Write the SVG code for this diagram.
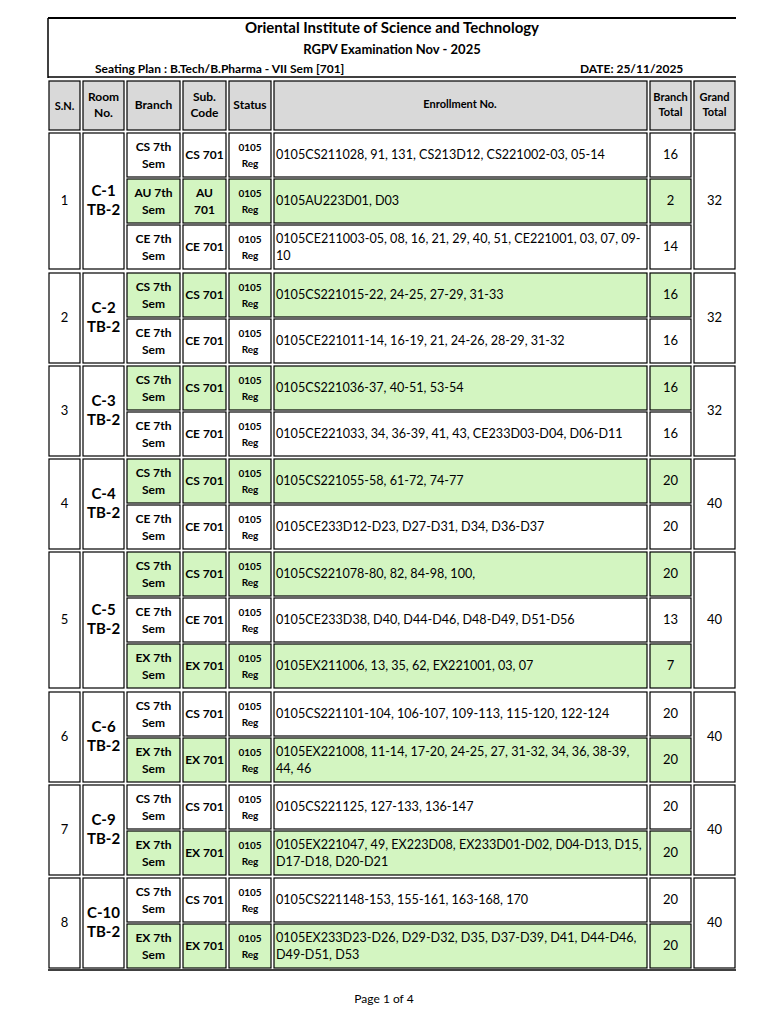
<svg xmlns="http://www.w3.org/2000/svg" width="768" height="1024" viewBox="0 0 768 1024">
<style>
text{font-family:Lato,"Open Sans","Liberation Sans",sans-serif;fill:#000}
.c{fill:#fff;stroke:#000;stroke-width:1.2}
.g{fill:#d3f5c1;stroke:#000;stroke-width:1.2}
.h{fill:#d9d9d9;stroke:#000;stroke-width:1.2}
.b{font-weight:bold}
.m{text-anchor:middle}
.t12{font-size:12px}.t10{font-size:10px}.t13{font-size:13px}.t15{font-size:15px}
text[x="276"]{font-size:12.6px}
</style>
<rect width="768" height="1024" fill="#fff"/>
<g id="title">
<line x1="48" y1="18" x2="736" y2="18" stroke="#000" stroke-width="2"/>
<line x1="48" y1="18" x2="48" y2="78" stroke="#000" stroke-width="1.5"/>
<line x1="48" y1="77" x2="736" y2="77" stroke="#000" stroke-width="1.5"/>
<text x="392" y="33" class="b m" font-size="15">Oriental Institute of Science and Technology</text>
<text x="392" y="54" class="b m t13">RGPV Examination Nov - 2025</text>
<text x="95" y="73" class="b t12">Seating Plan : B.Tech/B.Pharma - VII Sem [701]</text>
<text x="580" y="73" class="b t12">DATE: 25/11/2025</text>
</g>
<g id="header" class="b t12">
<rect class="h" x="49" y="81" width="31" height="49"/><text x="64.5" y="110" class="m" font-size="11">S.N.</text>
<rect class="h" x="83" y="81" width="41" height="49"/><text x="103.5" y="101" class="m">Room</text><text x="103.5" y="117" class="m">No.</text>
<rect class="h" x="127" y="81" width="53" height="49"/><text x="153.5" y="109" class="m">Branch</text>
<rect class="h" x="183" y="81" width="43" height="49"/><text x="204.5" y="101" class="m">Sub.</text><text x="204.5" y="117" class="m">Code</text>
<rect class="h" x="229" y="81" width="42" height="49"/><text x="250" y="109" class="m">Status</text>
<rect class="h" x="274" y="81" width="373" height="49"/><text x="460" y="108" class="m" font-size="11">Enrollment No.</text>
<rect class="h" x="650" y="81" width="41" height="49"/><text x="670.5" y="101" class="m" font-size="11">Branch</text><text x="670.5" y="116" class="m" font-size="11">Total</text>
<rect class="h" x="694" y="81" width="41" height="49"/><text x="714.5" y="101" class="m" font-size="11">Grand</text><text x="714.5" y="116" class="m" font-size="11">Total</text>
</g>

<g id="g1">
<rect class="c" x="49" y="133" width="31" height="136"/><text x="64.5" y="205" class="m t13">1</text>
<rect class="c" x="83" y="133" width="41" height="136"/><text x="103.5" y="196" class="m b t15">C-1</text><text x="103.5" y="215" class="m b t15">TB-2</text>
<rect class="c" x="694" y="133" width="41" height="136"/><text x="714.5" y="205" class="m t13">32</text>
<rect class="c" x="127" y="133" width="53" height="44"/><text x="153.5" y="151" class="m b t12">CS 7th</text><text x="153.5" y="168" class="m b t12">Sem</text>
<rect class="c" x="183" y="133" width="43" height="44"/><text x="204.5" y="159" class="m b t12">CS 701</text>
<rect class="c" x="229" y="133" width="42" height="44"/><text x="250" y="151" class="m b t10">0105</text><text x="250" y="167" class="m b t10">Reg</text>
<rect class="c" x="274" y="133" width="373" height="44"/><text x="276" y="159" class="t13">0105CS211028, 91, 131, CS213D12, CS221002-03, 05-14</text>
<rect class="c" x="650" y="133" width="41" height="44"/><text x="670.5" y="159" class="m t13">16</text>
<rect class="g" x="127" y="179" width="53" height="44"/><text x="153.5" y="197" class="m b t12">AU 7th</text><text x="153.5" y="214" class="m b t12">Sem</text>
<rect class="g" x="183" y="179" width="43" height="44"/><text x="204.5" y="197" class="m b t12">AU</text><text x="204.5" y="214" class="m b t12">701</text>
<rect class="g" x="229" y="179" width="42" height="44"/><text x="250" y="197" class="m b t10">0105</text><text x="250" y="213" class="m b t10">Reg</text>
<rect class="g" x="274" y="179" width="373" height="44"/><text x="276" y="205" class="t13">0105AU223D01, D03</text>
<rect class="g" x="650" y="179" width="41" height="44"/><text x="670.5" y="205" class="m t13">2</text>
<rect class="c" x="127" y="225" width="53" height="44"/><text x="153.5" y="243" class="m b t12">CE 7th</text><text x="153.5" y="260" class="m b t12">Sem</text>
<rect class="c" x="183" y="225" width="43" height="44"/><text x="204.5" y="251" class="m b t12">CE 701</text>
<rect class="c" x="229" y="225" width="42" height="44"/><text x="250" y="243" class="m b t10">0105</text><text x="250" y="259" class="m b t10">Reg</text>
<rect class="c" x="274" y="225" width="373" height="44"/><text x="276" y="243" class="t13">0105CE211003-05, 08, 16, 21, 29, 40, 51, CE221001, 03, 07, 09-</text><text x="276" y="260" class="t13">10</text>
<rect class="c" x="650" y="225" width="41" height="44"/><text x="670.5" y="251" class="m t13">14</text>
</g>

<g id="g2">
<rect class="c" x="49" y="273" width="31" height="90"/><text x="64.5" y="322" class="m t13">2</text>
<rect class="c" x="83" y="273" width="41" height="90"/><text x="103.5" y="313" class="m b t15">C-2</text><text x="103.5" y="332" class="m b t15">TB-2</text>
<rect class="c" x="694" y="273" width="41" height="90"/><text x="714.5" y="322" class="m t13">32</text>
<rect class="g" x="127" y="273" width="53" height="44"/><text x="153.5" y="291" class="m b t12">CS 7th</text><text x="153.5" y="308" class="m b t12">Sem</text>
<rect class="g" x="183" y="273" width="43" height="44"/><text x="204.5" y="299" class="m b t12">CS 701</text>
<rect class="g" x="229" y="273" width="42" height="44"/><text x="250" y="291" class="m b t10">0105</text><text x="250" y="307" class="m b t10">Reg</text>
<rect class="g" x="274" y="273" width="373" height="44"/><text x="276" y="299" class="t13">0105CS221015-22, 24-25, 27-29, 31-33</text>
<rect class="g" x="650" y="273" width="41" height="44"/><text x="670.5" y="299" class="m t13">16</text>
<rect class="c" x="127" y="319" width="53" height="44"/><text x="153.5" y="337" class="m b t12">CE 7th</text><text x="153.5" y="354" class="m b t12">Sem</text>
<rect class="c" x="183" y="319" width="43" height="44"/><text x="204.5" y="345" class="m b t12">CE 701</text>
<rect class="c" x="229" y="319" width="42" height="44"/><text x="250" y="337" class="m b t10">0105</text><text x="250" y="353" class="m b t10">Reg</text>
<rect class="c" x="274" y="319" width="373" height="44"/><text x="276" y="345" class="t13">0105CE221011-14, 16-19, 21, 24-26, 28-29, 31-32</text>
<rect class="c" x="650" y="319" width="41" height="44"/><text x="670.5" y="345" class="m t13">16</text>
</g>

<g id="g3">
<rect class="c" x="49" y="366" width="31" height="90"/><text x="64.5" y="415" class="m t13">3</text>
<rect class="c" x="83" y="366" width="41" height="90"/><text x="103.5" y="406" class="m b t15">C-3</text><text x="103.5" y="425" class="m b t15">TB-2</text>
<rect class="c" x="694" y="366" width="41" height="90"/><text x="714.5" y="415" class="m t13">32</text>
<rect class="g" x="127" y="366" width="53" height="44"/><text x="153.5" y="384" class="m b t12">CS 7th</text><text x="153.5" y="401" class="m b t12">Sem</text>
<rect class="g" x="183" y="366" width="43" height="44"/><text x="204.5" y="392" class="m b t12">CS 701</text>
<rect class="g" x="229" y="366" width="42" height="44"/><text x="250" y="384" class="m b t10">0105</text><text x="250" y="400" class="m b t10">Reg</text>
<rect class="g" x="274" y="366" width="373" height="44"/><text x="276" y="392" class="t13">0105CS221036-37, 40-51, 53-54</text>
<rect class="g" x="650" y="366" width="41" height="44"/><text x="670.5" y="392" class="m t13">16</text>
<rect class="c" x="127" y="412" width="53" height="44"/><text x="153.5" y="430" class="m b t12">CE 7th</text><text x="153.5" y="447" class="m b t12">Sem</text>
<rect class="c" x="183" y="412" width="43" height="44"/><text x="204.5" y="438" class="m b t12">CE 701</text>
<rect class="c" x="229" y="412" width="42" height="44"/><text x="250" y="430" class="m b t10">0105</text><text x="250" y="446" class="m b t10">Reg</text>
<rect class="c" x="274" y="412" width="373" height="44"/><text x="276" y="438" class="t13">0105CE221033, 34, 36-39, 41, 43, CE233D03-D04, D06-D11</text>
<rect class="c" x="650" y="412" width="41" height="44"/><text x="670.5" y="438" class="m t13">16</text>
</g>

<g id="g4">
<rect class="c" x="49" y="459" width="31" height="90"/><text x="64.5" y="508" class="m t13">4</text>
<rect class="c" x="83" y="459" width="41" height="90"/><text x="103.5" y="499" class="m b t15">C-4</text><text x="103.5" y="518" class="m b t15">TB-2</text>
<rect class="c" x="694" y="459" width="41" height="90"/><text x="714.5" y="508" class="m t13">40</text>
<rect class="g" x="127" y="459" width="53" height="44"/><text x="153.5" y="477" class="m b t12">CS 7th</text><text x="153.5" y="494" class="m b t12">Sem</text>
<rect class="g" x="183" y="459" width="43" height="44"/><text x="204.5" y="485" class="m b t12">CS 701</text>
<rect class="g" x="229" y="459" width="42" height="44"/><text x="250" y="477" class="m b t10">0105</text><text x="250" y="493" class="m b t10">Reg</text>
<rect class="g" x="274" y="459" width="373" height="44"/><text x="276" y="485" class="t13">0105CS221055-58, 61-72, 74-77</text>
<rect class="g" x="650" y="459" width="41" height="44"/><text x="670.5" y="485" class="m t13">20</text>
<rect class="c" x="127" y="505" width="53" height="44"/><text x="153.5" y="523" class="m b t12">CE 7th</text><text x="153.5" y="540" class="m b t12">Sem</text>
<rect class="c" x="183" y="505" width="43" height="44"/><text x="204.5" y="531" class="m b t12">CE 701</text>
<rect class="c" x="229" y="505" width="42" height="44"/><text x="250" y="523" class="m b t10">0105</text><text x="250" y="539" class="m b t10">Reg</text>
<rect class="c" x="274" y="505" width="373" height="44"/><text x="276" y="531" class="t13">0105CE233D12-D23, D27-D31, D34, D36-D37</text>
<rect class="c" x="650" y="505" width="41" height="44"/><text x="670.5" y="531" class="m t13">20</text>
</g>

<g id="g5">
<rect class="c" x="49" y="552" width="31" height="136"/><text x="64.5" y="624" class="m t13">5</text>
<rect class="c" x="83" y="552" width="41" height="136"/><text x="103.5" y="615" class="m b t15">C-5</text><text x="103.5" y="634" class="m b t15">TB-2</text>
<rect class="c" x="694" y="552" width="41" height="136"/><text x="714.5" y="624" class="m t13">40</text>
<rect class="g" x="127" y="552" width="53" height="44"/><text x="153.5" y="570" class="m b t12">CS 7th</text><text x="153.5" y="587" class="m b t12">Sem</text>
<rect class="g" x="183" y="552" width="43" height="44"/><text x="204.5" y="578" class="m b t12">CS 701</text>
<rect class="g" x="229" y="552" width="42" height="44"/><text x="250" y="570" class="m b t10">0105</text><text x="250" y="586" class="m b t10">Reg</text>
<rect class="g" x="274" y="552" width="373" height="44"/><text x="276" y="578" class="t13">0105CS221078-80, 82, 84-98, 100,</text>
<rect class="g" x="650" y="552" width="41" height="44"/><text x="670.5" y="578" class="m t13">20</text>
<rect class="c" x="127" y="598" width="53" height="44"/><text x="153.5" y="616" class="m b t12">CE 7th</text><text x="153.5" y="633" class="m b t12">Sem</text>
<rect class="c" x="183" y="598" width="43" height="44"/><text x="204.5" y="624" class="m b t12">CE 701</text>
<rect class="c" x="229" y="598" width="42" height="44"/><text x="250" y="616" class="m b t10">0105</text><text x="250" y="632" class="m b t10">Reg</text>
<rect class="c" x="274" y="598" width="373" height="44"/><text x="276" y="624" class="t13">0105CE233D38, D40, D44-D46, D48-D49, D51-D56</text>
<rect class="c" x="650" y="598" width="41" height="44"/><text x="670.5" y="624" class="m t13">13</text>
<rect class="g" x="127" y="644" width="53" height="44"/><text x="153.5" y="662" class="m b t12">EX 7th</text><text x="153.5" y="679" class="m b t12">Sem</text>
<rect class="g" x="183" y="644" width="43" height="44"/><text x="204.5" y="670" class="m b t12">EX 701</text>
<rect class="g" x="229" y="644" width="42" height="44"/><text x="250" y="662" class="m b t10">0105</text><text x="250" y="678" class="m b t10">Reg</text>
<rect class="g" x="274" y="644" width="373" height="44"/><text x="276" y="670" class="t13">0105EX211006, 13, 35, 62, EX221001, 03, 07</text>
<rect class="g" x="650" y="644" width="41" height="44"/><text x="670.5" y="670" class="m t13">7</text>
</g>

<g id="g6">
<rect class="c" x="49" y="692" width="31" height="90"/><text x="64.5" y="741" class="m t13">6</text>
<rect class="c" x="83" y="692" width="41" height="90"/><text x="103.5" y="732" class="m b t15">C-6</text><text x="103.5" y="751" class="m b t15">TB-2</text>
<rect class="c" x="694" y="692" width="41" height="90"/><text x="714.5" y="741" class="m t13">40</text>
<rect class="c" x="127" y="692" width="53" height="44"/><text x="153.5" y="710" class="m b t12">CS 7th</text><text x="153.5" y="727" class="m b t12">Sem</text>
<rect class="c" x="183" y="692" width="43" height="44"/><text x="204.5" y="718" class="m b t12">CS 701</text>
<rect class="c" x="229" y="692" width="42" height="44"/><text x="250" y="710" class="m b t10">0105</text><text x="250" y="726" class="m b t10">Reg</text>
<rect class="c" x="274" y="692" width="373" height="44"/><text x="276" y="718" class="t13">0105CS221101-104, 106-107, 109-113, 115-120, 122-124</text>
<rect class="c" x="650" y="692" width="41" height="44"/><text x="670.5" y="718" class="m t13">20</text>
<rect class="g" x="127" y="738" width="53" height="44"/><text x="153.5" y="756" class="m b t12">EX 7th</text><text x="153.5" y="773" class="m b t12">Sem</text>
<rect class="g" x="183" y="738" width="43" height="44"/><text x="204.5" y="764" class="m b t12">EX 701</text>
<rect class="g" x="229" y="738" width="42" height="44"/><text x="250" y="756" class="m b t10">0105</text><text x="250" y="772" class="m b t10">Reg</text>
<rect class="g" x="274" y="738" width="373" height="44"/><text x="276" y="756" class="t13">0105EX221008, 11-14, 17-20, 24-25, 27, 31-32, 34, 36, 38-39,</text><text x="276" y="773" class="t13">44, 46</text>
<rect class="g" x="650" y="738" width="41" height="44"/><text x="670.5" y="764" class="m t13">20</text>
</g>

<g id="g7">
<rect class="c" x="49" y="785" width="31" height="90"/><text x="64.5" y="834" class="m t13">7</text>
<rect class="c" x="83" y="785" width="41" height="90"/><text x="103.5" y="825" class="m b t15">C-9</text><text x="103.5" y="844" class="m b t15">TB-2</text>
<rect class="c" x="694" y="785" width="41" height="90"/><text x="714.5" y="834" class="m t13">40</text>
<rect class="c" x="127" y="785" width="53" height="44"/><text x="153.5" y="803" class="m b t12">CS 7th</text><text x="153.5" y="820" class="m b t12">Sem</text>
<rect class="c" x="183" y="785" width="43" height="44"/><text x="204.5" y="811" class="m b t12">CS 701</text>
<rect class="c" x="229" y="785" width="42" height="44"/><text x="250" y="803" class="m b t10">0105</text><text x="250" y="819" class="m b t10">Reg</text>
<rect class="c" x="274" y="785" width="373" height="44"/><text x="276" y="811" class="t13">0105CS221125, 127-133, 136-147</text>
<rect class="c" x="650" y="785" width="41" height="44"/><text x="670.5" y="811" class="m t13">20</text>
<rect class="g" x="127" y="831" width="53" height="44"/><text x="153.5" y="849" class="m b t12">EX 7th</text><text x="153.5" y="866" class="m b t12">Sem</text>
<rect class="g" x="183" y="831" width="43" height="44"/><text x="204.5" y="857" class="m b t12">EX 701</text>
<rect class="g" x="229" y="831" width="42" height="44"/><text x="250" y="849" class="m b t10">0105</text><text x="250" y="865" class="m b t10">Reg</text>
<rect class="g" x="274" y="831" width="373" height="44"/><text x="276" y="849" class="t13">0105EX221047, 49, EX223D08, EX233D01-D02, D04-D13, D15,</text><text x="276" y="866" class="t13">D17-D18, D20-D21</text>
<rect class="g" x="650" y="831" width="41" height="44"/><text x="670.5" y="857" class="m t13">20</text>
</g>

<g id="g8">
<rect class="c" x="49" y="878" width="31" height="90"/><text x="64.5" y="927" class="m t13">8</text>
<rect class="c" x="83" y="878" width="41" height="90"/><text x="103.5" y="918" class="m b t15">C-10</text><text x="103.5" y="937" class="m b t15">TB-2</text>
<rect class="c" x="694" y="878" width="41" height="90"/><text x="714.5" y="927" class="m t13">40</text>
<rect class="c" x="127" y="878" width="53" height="44"/><text x="153.5" y="896" class="m b t12">CS 7th</text><text x="153.5" y="913" class="m b t12">Sem</text>
<rect class="c" x="183" y="878" width="43" height="44"/><text x="204.5" y="904" class="m b t12">CS 701</text>
<rect class="c" x="229" y="878" width="42" height="44"/><text x="250" y="896" class="m b t10">0105</text><text x="250" y="912" class="m b t10">Reg</text>
<rect class="c" x="274" y="878" width="373" height="44"/><text x="276" y="904" class="t13">0105CS221148-153, 155-161, 163-168, 170</text>
<rect class="c" x="650" y="878" width="41" height="44"/><text x="670.5" y="904" class="m t13">20</text>
<rect class="g" x="127" y="924" width="53" height="44"/><text x="153.5" y="942" class="m b t12">EX 7th</text><text x="153.5" y="959" class="m b t12">Sem</text>
<rect class="g" x="183" y="924" width="43" height="44"/><text x="204.5" y="950" class="m b t12">EX 701</text>
<rect class="g" x="229" y="924" width="42" height="44"/><text x="250" y="942" class="m b t10">0105</text><text x="250" y="958" class="m b t10">Reg</text>
<rect class="g" x="274" y="924" width="373" height="44"/><text x="276" y="942" class="t13">0105EX233D23-D26, D29-D32, D35, D37-D39, D41, D44-D46,</text><text x="276" y="959" class="t13">D49-D51, D53</text>
<rect class="g" x="650" y="924" width="41" height="44"/><text x="670.5" y="950" class="m t13">20</text>
</g>
<line x1="48" y1="970" x2="736" y2="970" stroke="#000" stroke-width="1.5"/>
<text x="384" y="1003" class="m" font-size="12">Page 1 of 4</text>
</svg>
